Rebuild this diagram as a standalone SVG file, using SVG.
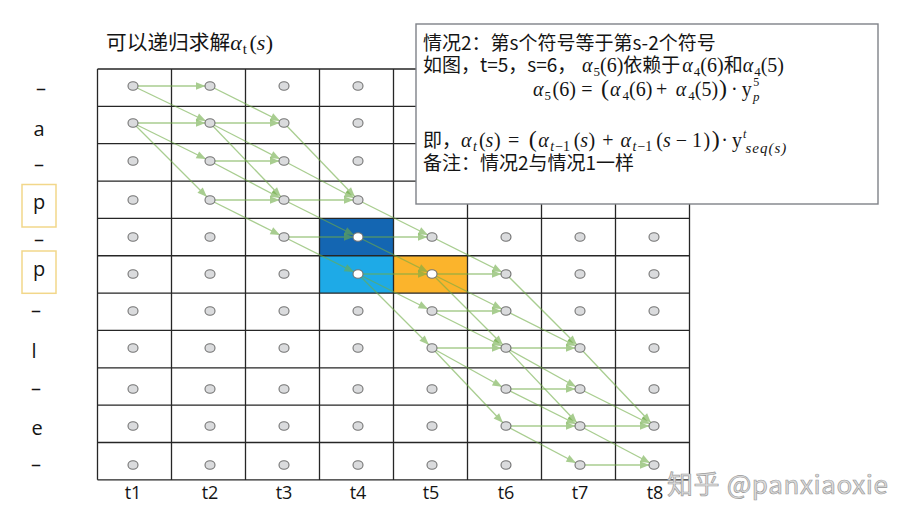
<svg xmlns="http://www.w3.org/2000/svg" width="911" height="524" viewBox="0 0 911 524">
<style>
.cjk{font-family:"Noto Sans CJK SC","Noto Sans",sans-serif;fill:#141414}
.lat{font-family:"Open Sans","Liberation Sans",sans-serif;fill:#141414}
.mi{font-family:"Liberation Serif",serif;font-style:italic}
.mr{font-family:"Liberation Serif",serif;font-style:normal}
.lbl{font-size:20px;text-anchor:middle}
.col{font-size:18px;text-anchor:middle}
.grid{fill:none;stroke:#262626;stroke-width:1.3}
.e{stroke:#70ad47;stroke-width:1.3;opacity:0.6;marker-end:url(#ah)}
.c{fill:#dadbdd;stroke:#737373;stroke-width:1.1}
.w{fill:#ffffff;stroke:#737373;stroke-width:1.1}
.box{fill:none;stroke:#f2d78a;stroke-width:1.5}
</style>
<defs>
<marker id="ah" markerUnits="userSpaceOnUse" markerWidth="10" markerHeight="8" refX="14" refY="3.8" orient="auto" overflow="visible">
<path d="M0,0 L9.5,3.8 L0,7.6 z" fill="#70ad47"/>
</marker>
</defs>
<rect width="911" height="524" fill="#ffffff"/>

<g id="title">
<text class="cjk" x="106" y="49.5" font-size="20.7">可以递归求解<tspan class="mi" font-size="22">α</tspan><tspan class="mr" dx="1" dy="4.5" font-size="15">t</tspan><tspan class="mr" dx="2.5" dy="-4.5" font-size="22">(</tspan><tspan class="mi" font-size="22">s</tspan><tspan class="mr" dx="0.5" font-size="22">)</tspan></text>
</g>

<g id="row-labels">
<g id="lbl-0"><text class="lat lbl" x="41" y="95">–</text></g>
<g id="lbl-1"><text class="lat lbl" x="39" y="136">a</text></g>
<g id="lbl-2"><text class="lat lbl" x="39" y="170.5">–</text></g>
<g id="lbl-3"><rect class="box" x="22" y="184.5" width="34" height="42.5"/><text class="lat lbl" x="39" y="209">p</text></g>
<g id="lbl-4"><text class="lat lbl" x="39" y="245.5">–</text></g>
<g id="lbl-5"><rect class="box" x="22" y="251" width="34" height="42.3"/><text class="lat lbl" x="39" y="276">p</text></g>
<g id="lbl-6"><text class="lat lbl" x="36" y="316.5">–</text></g>
<g id="lbl-7"><text class="lat lbl" x="34" y="358">l</text></g>
<g id="lbl-8"><text class="lat lbl" x="36" y="394.5">–</text></g>
<g id="lbl-9"><text class="lat lbl" x="37" y="435">e</text></g>
<g id="lbl-10"><text class="lat lbl" x="36" y="470.5">–</text></g>
</g>

<g id="highlights">
<rect x="319.5" y="218.4" width="74" height="37.35" fill="#1466b2"/>
<rect x="319.5" y="255.75" width="74" height="37.35" fill="#1eaae7"/>
<rect x="393.5" y="255.75" width="74" height="37.35" fill="#fbb42c"/>
</g>

<g id="grid">
<path class="grid" d="M97.5,69V479.85M171.5,69V479.85M245.5,69V479.85M319.5,69V479.85M393.5,69V479.85M467.5,69V479.85M541.5,69V479.85M615.5,69V479.85M689.5,69V479.85M97.5,69H689.5M97.5,106.35H689.5M97.5,143.7H689.5M97.5,181.05H689.5M97.5,218.4H689.5M97.5,255.75H689.5M97.5,293.1H689.5M97.5,330.45H689.5M97.5,367.8H689.5M97.5,405.15H689.5M97.5,442.5H689.5M97.5,479.85H689.5"/>
</g>

<g id="connectors">
<line class="e" x1="133" y1="86" x2="210" y2="86"/>
<line class="e" x1="133" y1="86" x2="210" y2="123"/>
<line class="e" x1="133" y1="123" x2="210" y2="123"/>
<line class="e" x1="133" y1="123" x2="210" y2="161"/>
<line class="e" x1="133" y1="123" x2="210" y2="200"/>
<line class="e" x1="210" y1="86" x2="284" y2="123"/>
<line class="e" x1="210" y1="123" x2="284" y2="123"/>
<line class="e" x1="210" y1="123" x2="284" y2="161"/>
<line class="e" x1="210" y1="123" x2="284" y2="200"/>
<line class="e" x1="210" y1="161" x2="284" y2="161"/>
<line class="e" x1="210" y1="161" x2="284" y2="200"/>
<line class="e" x1="210" y1="200" x2="284" y2="200"/>
<line class="e" x1="210" y1="200" x2="284" y2="237"/>
<line class="e" x1="284" y1="123" x2="358" y2="200"/>
<line class="e" x1="284" y1="161" x2="358" y2="200"/>
<line class="e" x1="284" y1="200" x2="358" y2="200"/>
<line class="e" x1="284" y1="200" x2="358" y2="237"/>
<line class="e" x1="284" y1="237" x2="358" y2="237"/>
<line class="e" x1="284" y1="237" x2="358" y2="274"/>
<line class="e" x1="358" y1="200" x2="432" y2="237"/>
<line class="e" x1="358" y1="237" x2="432" y2="237"/>
<line class="e" x1="358" y1="237" x2="432" y2="274"/>
<line class="e" x1="358" y1="274" x2="432" y2="274"/>
<line class="e" x1="358" y1="274" x2="432" y2="311"/>
<line class="e" x1="358" y1="274" x2="432" y2="348"/>
<line class="e" x1="432" y1="237" x2="506" y2="274"/>
<line class="e" x1="432" y1="274" x2="506" y2="274"/>
<line class="e" x1="432" y1="274" x2="506" y2="311"/>
<line class="e" x1="432" y1="274" x2="506" y2="348"/>
<line class="e" x1="432" y1="311" x2="506" y2="311"/>
<line class="e" x1="432" y1="311" x2="506" y2="348"/>
<line class="e" x1="432" y1="348" x2="506" y2="348"/>
<line class="e" x1="432" y1="348" x2="506" y2="389"/>
<line class="e" x1="432" y1="348" x2="506" y2="426"/>
<line class="e" x1="506" y1="274" x2="580" y2="348"/>
<line class="e" x1="506" y1="311" x2="580" y2="348"/>
<line class="e" x1="506" y1="348" x2="580" y2="348"/>
<line class="e" x1="506" y1="348" x2="580" y2="389"/>
<line class="e" x1="506" y1="348" x2="580" y2="426"/>
<line class="e" x1="506" y1="389" x2="580" y2="389"/>
<line class="e" x1="506" y1="389" x2="580" y2="426"/>
<line class="e" x1="506" y1="426" x2="580" y2="426"/>
<line class="e" x1="506" y1="426" x2="580" y2="465"/>
<line class="e" x1="580" y1="348" x2="654" y2="426"/>
<line class="e" x1="580" y1="389" x2="654" y2="426"/>
<line class="e" x1="580" y1="426" x2="654" y2="426"/>
<line class="e" x1="580" y1="426" x2="654" y2="465"/>
<line class="e" x1="580" y1="465" x2="654" y2="465"/>
</g>

<g id="nodes">
<g id="n-t1-s0"><ellipse class="c" cx="133" cy="86" rx="5" ry="4.3"/></g>
<g id="n-t1-s1"><ellipse class="c" cx="133" cy="123" rx="5" ry="4.3"/></g>
<g id="n-t1-s2"><ellipse class="c" cx="133" cy="161" rx="5" ry="4.3"/></g>
<g id="n-t1-s3"><ellipse class="c" cx="133" cy="200" rx="5" ry="4.3"/></g>
<g id="n-t1-s4"><ellipse class="c" cx="133" cy="237" rx="5" ry="4.3"/></g>
<g id="n-t1-s5"><ellipse class="c" cx="133" cy="274" rx="5" ry="4.3"/></g>
<g id="n-t1-s6"><ellipse class="c" cx="133" cy="311" rx="5" ry="4.3"/></g>
<g id="n-t1-s7"><ellipse class="c" cx="133" cy="348" rx="5" ry="4.3"/></g>
<g id="n-t1-s8"><ellipse class="c" cx="133" cy="389" rx="5" ry="4.3"/></g>
<g id="n-t1-s9"><ellipse class="c" cx="133" cy="426" rx="5" ry="4.3"/></g>
<g id="n-t1-s10"><ellipse class="c" cx="133" cy="465" rx="5" ry="4.3"/></g>
<g id="n-t2-s0"><ellipse class="c" cx="210" cy="86" rx="5" ry="4.3"/></g>
<g id="n-t2-s1"><ellipse class="c" cx="210" cy="123" rx="5" ry="4.3"/></g>
<g id="n-t2-s2"><ellipse class="c" cx="210" cy="161" rx="5" ry="4.3"/></g>
<g id="n-t2-s3"><ellipse class="c" cx="210" cy="200" rx="5" ry="4.3"/></g>
<g id="n-t2-s4"><ellipse class="c" cx="210" cy="237" rx="5" ry="4.3"/></g>
<g id="n-t2-s5"><ellipse class="c" cx="210" cy="274" rx="5" ry="4.3"/></g>
<g id="n-t2-s6"><ellipse class="c" cx="210" cy="311" rx="5" ry="4.3"/></g>
<g id="n-t2-s7"><ellipse class="c" cx="210" cy="348" rx="5" ry="4.3"/></g>
<g id="n-t2-s8"><ellipse class="c" cx="210" cy="389" rx="5" ry="4.3"/></g>
<g id="n-t2-s9"><ellipse class="c" cx="210" cy="426" rx="5" ry="4.3"/></g>
<g id="n-t2-s10"><ellipse class="c" cx="210" cy="465" rx="5" ry="4.3"/></g>
<g id="n-t3-s0"><ellipse class="c" cx="284" cy="86" rx="5" ry="4.3"/></g>
<g id="n-t3-s1"><ellipse class="c" cx="284" cy="123" rx="5" ry="4.3"/></g>
<g id="n-t3-s2"><ellipse class="c" cx="284" cy="161" rx="5" ry="4.3"/></g>
<g id="n-t3-s3"><ellipse class="c" cx="284" cy="200" rx="5" ry="4.3"/></g>
<g id="n-t3-s4"><ellipse class="c" cx="284" cy="237" rx="5" ry="4.3"/></g>
<g id="n-t3-s5"><ellipse class="c" cx="284" cy="274" rx="5" ry="4.3"/></g>
<g id="n-t3-s6"><ellipse class="c" cx="284" cy="311" rx="5" ry="4.3"/></g>
<g id="n-t3-s7"><ellipse class="c" cx="284" cy="348" rx="5" ry="4.3"/></g>
<g id="n-t3-s8"><ellipse class="c" cx="284" cy="389" rx="5" ry="4.3"/></g>
<g id="n-t3-s9"><ellipse class="c" cx="284" cy="426" rx="5" ry="4.3"/></g>
<g id="n-t3-s10"><ellipse class="c" cx="284" cy="465" rx="5" ry="4.3"/></g>
<g id="n-t4-s0"><ellipse class="c" cx="358" cy="86" rx="5" ry="4.3"/></g>
<g id="n-t4-s1"><ellipse class="c" cx="358" cy="123" rx="5" ry="4.3"/></g>
<g id="n-t4-s2"><ellipse class="c" cx="358" cy="161" rx="5" ry="4.3"/></g>
<g id="n-t4-s3"><ellipse class="c" cx="358" cy="200" rx="5" ry="4.3"/></g>
<g id="n-t4-s4"><ellipse class="w" cx="358" cy="237" rx="5" ry="4.3"/></g>
<g id="n-t4-s5"><ellipse class="w" cx="358" cy="274" rx="5" ry="4.3"/></g>
<g id="n-t4-s6"><ellipse class="c" cx="358" cy="311" rx="5" ry="4.3"/></g>
<g id="n-t4-s7"><ellipse class="c" cx="358" cy="348" rx="5" ry="4.3"/></g>
<g id="n-t4-s8"><ellipse class="c" cx="358" cy="389" rx="5" ry="4.3"/></g>
<g id="n-t4-s9"><ellipse class="c" cx="358" cy="426" rx="5" ry="4.3"/></g>
<g id="n-t4-s10"><ellipse class="c" cx="358" cy="465" rx="5" ry="4.3"/></g>
<g id="n-t5-s4"><ellipse class="c" cx="432" cy="237" rx="5" ry="4.3"/></g>
<g id="n-t5-s5"><ellipse class="w" cx="432" cy="274" rx="5" ry="4.3"/></g>
<g id="n-t5-s6"><ellipse class="c" cx="432" cy="311" rx="5" ry="4.3"/></g>
<g id="n-t5-s7"><ellipse class="c" cx="432" cy="348" rx="5" ry="4.3"/></g>
<g id="n-t5-s8"><ellipse class="c" cx="432" cy="389" rx="5" ry="4.3"/></g>
<g id="n-t5-s9"><ellipse class="c" cx="432" cy="426" rx="5" ry="4.3"/></g>
<g id="n-t5-s10"><ellipse class="c" cx="432" cy="465" rx="5" ry="4.3"/></g>
<g id="n-t6-s4"><ellipse class="c" cx="506" cy="237" rx="5" ry="4.3"/></g>
<g id="n-t6-s5"><ellipse class="c" cx="506" cy="274" rx="5" ry="4.3"/></g>
<g id="n-t6-s6"><ellipse class="c" cx="506" cy="311" rx="5" ry="4.3"/></g>
<g id="n-t6-s7"><ellipse class="c" cx="506" cy="348" rx="5" ry="4.3"/></g>
<g id="n-t6-s8"><ellipse class="c" cx="506" cy="389" rx="5" ry="4.3"/></g>
<g id="n-t6-s9"><ellipse class="c" cx="506" cy="426" rx="5" ry="4.3"/></g>
<g id="n-t6-s10"><ellipse class="c" cx="506" cy="465" rx="5" ry="4.3"/></g>
<g id="n-t7-s4"><ellipse class="c" cx="580" cy="237" rx="5" ry="4.3"/></g>
<g id="n-t7-s5"><ellipse class="c" cx="580" cy="274" rx="5" ry="4.3"/></g>
<g id="n-t7-s6"><ellipse class="c" cx="580" cy="311" rx="5" ry="4.3"/></g>
<g id="n-t7-s7"><ellipse class="c" cx="580" cy="348" rx="5" ry="4.3"/></g>
<g id="n-t7-s8"><ellipse class="c" cx="580" cy="389" rx="5" ry="4.3"/></g>
<g id="n-t7-s9"><ellipse class="c" cx="580" cy="426" rx="5" ry="4.3"/></g>
<g id="n-t7-s10"><ellipse class="c" cx="580" cy="465" rx="5" ry="4.3"/></g>
<g id="n-t8-s4"><ellipse class="c" cx="654" cy="237" rx="5" ry="4.3"/></g>
<g id="n-t8-s5"><ellipse class="c" cx="654" cy="274" rx="5" ry="4.3"/></g>
<g id="n-t8-s6"><ellipse class="c" cx="654" cy="311" rx="5" ry="4.3"/></g>
<g id="n-t8-s7"><ellipse class="c" cx="654" cy="348" rx="5" ry="4.3"/></g>
<g id="n-t8-s8"><ellipse class="c" cx="654" cy="389" rx="5" ry="4.3"/></g>
<g id="n-t8-s9"><ellipse class="c" cx="654" cy="426" rx="5" ry="4.3"/></g>
<g id="n-t8-s10"><ellipse class="c" cx="654" cy="465" rx="5" ry="4.3"/></g>
</g>

<g id="info-box">
<rect x="416" y="24" width="462" height="180" fill="#ffffff" stroke="#7f8288" stroke-width="1.4"/>
<text class="cjk" x="423" y="49.5" font-size="19">情况2：第s个符号等于第s-2个符号</text>
<text class="cjk" x="423" y="72" font-size="19">如图，t=5，s=6，<tspan class="mi" x="582" font-size="20">α</tspan><tspan class="mr" dx="1" dy="4" font-size="13">5</tspan><tspan class="mr" dy="-4" font-size="20">(6)</tspan><tspan>依赖于</tspan><tspan class="mi" dx="2" font-size="20">α</tspan><tspan class="mr" dx="1" dy="4" font-size="13">4</tspan><tspan class="mr" dy="-4" font-size="20">(6)</tspan><tspan>和</tspan><tspan class="mi" font-size="20">α</tspan><tspan class="mr" dx="1" dy="4" font-size="13">4</tspan><tspan class="mr" dy="-4" font-size="20">(5)</tspan></text>
<text class="mr" x="533" y="95.5" font-size="20" fill="#141414"><tspan class="mi">α</tspan><tspan dx="1" dy="4" font-size="13">5</tspan><tspan dx="1.5" dy="-4">(6)</tspan><tspan dx="5.5">=</tspan><tspan dx="8.5" font-size="24">(</tspan><tspan class="mi" dx="1">α</tspan><tspan dx="2" dy="4" font-size="13">4</tspan><tspan dy="-4">(6)</tspan><tspan dx="3.5">+</tspan><tspan class="mi" dx="8.5">α</tspan><tspan dx="2" dy="4" font-size="13">4</tspan><tspan dy="-4">(5)</tspan><tspan dx="1" font-size="24">)</tspan><tspan dx="4">·</tspan><tspan dx="4">y</tspan><tspan dx="1.5" dy="-9.5" font-size="12">5</tspan></text>
<text class="mi" x="753" y="100.5" font-size="13" fill="#141414">p</text>
<text class="cjk" x="423" y="147" font-size="19">即，<tspan class="mi" font-size="20">α</tspan><tspan class="mi" dx="1.5" dy="4" font-size="14">t</tspan><tspan class="mr" dx="2" dy="-4" font-size="20">(</tspan><tspan class="mi" font-size="20">s</tspan><tspan class="mr" dx="0.5" font-size="20">)</tspan><tspan class="mr" dx="7.5" font-size="20">=</tspan><tspan class="mr" dx="9.5" font-size="24">(</tspan><tspan class="mi" dx="1.5" font-size="20">α</tspan><tspan class="mi" dx="1.5" dy="4" font-size="14">t</tspan><tspan class="mr" dx="1" font-size="14">−1</tspan><tspan class="mr" dx="3.5" dy="-4" font-size="20">(</tspan><tspan class="mi" font-size="20">s</tspan><tspan class="mr" dx="0.5" font-size="20">)</tspan><tspan class="mr" dx="7" font-size="20">+</tspan><tspan class="mi" dx="7" font-size="20">α</tspan><tspan class="mi" dx="1.5" dy="4" font-size="14">t</tspan><tspan class="mr" dx="1" font-size="14">−1</tspan><tspan class="mr" dx="4" dy="-4" font-size="20">(</tspan><tspan class="mi" font-size="20">s</tspan><tspan class="mr" font-size="20"> − 1</tspan><tspan class="mr" dx="1.5" font-size="20">)</tspan><tspan class="mr" dx="1.5" font-size="24">)</tspan><tspan class="mr" dx="1.5" font-size="20">·</tspan><tspan class="mr" dx="4" font-size="20">y</tspan><tspan class="mi" dx="1" dy="-9" font-size="12">t</tspan></text>
<text class="mi" x="745.5" y="152.5" font-size="15" fill="#141414" letter-spacing="1">seq(s)</text>
<text class="cjk" x="423" y="170" font-size="19">备注：情况2与情况1一样</text>
</g>

<g id="col-labels">
<text class="lat col" x="133" y="499">t1</text>
<text class="lat col" x="210" y="499">t2</text>
<text class="lat col" x="284" y="499">t3</text>
<text class="lat col" x="358" y="499">t4</text>
<text class="lat col" x="431" y="499">t5</text>
<text class="lat col" x="506" y="499">t6</text>
<text class="lat col" x="580" y="499">t7</text>
<text class="lat col" x="655" y="499">t8</text>
</g>

<g id="watermark">
<text x="667" y="494" font-family="Noto Sans CJK SC, Open Sans, sans-serif" font-size="26" fill="#dcdcdc" stroke="#9c9c9c" stroke-width="0.7" textLength="221" lengthAdjust="spacing">知乎 @panxiaoxie</text>
</g>
</svg>
